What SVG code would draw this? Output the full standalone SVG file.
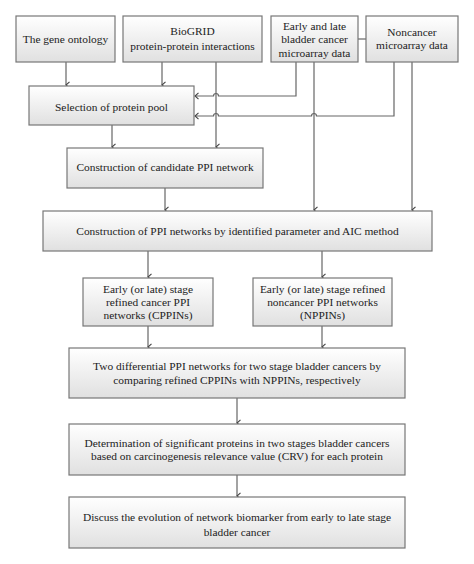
<svg xmlns="http://www.w3.org/2000/svg" width="474" height="564" viewBox="0 0 474 564">
<defs>
<linearGradient id="g" x1="0" y1="0" x2="0" y2="1">
<stop offset="0" stop-color="#ffffff"/>
<stop offset="1" stop-color="#e0e0e0"/>
</linearGradient>
<marker id="a" markerWidth="8" markerHeight="6" refX="4" refY="5" orient="auto" markerUnits="userSpaceOnUse" viewBox="0 0 8 6">
<path d="M0.8,1.5 L4,5 L7.2,1.5" fill="none" stroke="#444" stroke-width="1.1"/>
</marker>
<marker id="ar" markerWidth="6" markerHeight="8" refX="1" refY="4" markerUnits="userSpaceOnUse" viewBox="0 0 6 8">
<path d="M4.5,0.8 L1,4 L4.5,7.2" fill="none" stroke="#444" stroke-width="1.1"/>
</marker>
</defs>
<style>
.b{fill:url(#g);stroke:#777;stroke-width:1.2}
.t{font-family:"Liberation Serif","Times New Roman",serif;font-size:11.4px;fill:#222;text-anchor:middle}
.c{fill:none;stroke:#666;stroke-width:1.2}
</style>
<rect width="474" height="564" fill="#ffffff"/>
<g id="connectors">
<path class="c" d="M66,62 V85" marker-end="url(#a)"/>
<path class="c" d="M162,62 V85" marker-end="url(#a)"/>
<path class="c" d="M216,62 V147" marker-end="url(#a)"/>
<path class="c" d="M296,62 V96 H218.5 A2.5,2.5 0 0 0 213.5,96 H195" marker-end="url(#ar)"/>
<path class="c" d="M394,62 V116 H316.5 A2.5,2.5 0 0 0 311.5,116 H218.5 A2.5,2.5 0 0 0 213.5,116 H195" marker-end="url(#ar)"/>
<path class="c" d="M358,39 H366"/>
<path class="c" d="M314,62 V210" marker-end="url(#a)"/>
<path class="c" d="M412,62 V210" marker-end="url(#a)"/>
<path class="c" d="M112,125 V147" marker-end="url(#a)"/>
<path class="c" d="M165,188 V210" marker-end="url(#a)"/>
<path class="c" d="M148,251 V277" marker-end="url(#a)"/>
<path class="c" d="M322,251 V277" marker-end="url(#a)"/>
<path class="c" d="M148,326 V347" marker-end="url(#a)"/>
<path class="c" d="M322,326 V347" marker-end="url(#a)"/>
<path class="c" d="M237,398 V423" marker-end="url(#a)"/>
<path class="c" d="M237,475 V496" marker-end="url(#a)"/>
</g>
<g id="gene-ontology">
<rect class="b" x="16" y="16" width="99" height="46"/>
<text class="t" x="65.5" y="43">The gene ontology</text>
</g>
<g id="biogrid">
<rect class="b" x="123" y="16" width="139" height="46"/>
<text class="t" x="192.5" y="35">BioGRID</text>
<text class="t" x="192.5" y="50">protein-protein interactions</text>
</g>
<g id="early-late">
<rect class="b" x="271" y="16" width="87" height="46"/>
<text class="t" x="314.5" y="30">Early and late</text>
<text class="t" x="314.5" y="43">bladder cancer</text>
<text class="t" x="314.5" y="57">microarray data</text>
</g>
<g id="noncancer">
<rect class="b" x="366" y="16" width="92" height="46"/>
<text class="t" x="412" y="36">Noncancer</text>
<text class="t" x="412" y="49">microarray data</text>
</g>
<g id="selection">
<rect class="b" x="29" y="86" width="165" height="39"/>
<text class="t" x="111.5" y="111">Selection of protein pool</text>
</g>
<g id="candidate">
<rect class="b" x="67" y="148" width="196" height="40"/>
<text class="t" x="165" y="171">Construction of candidate PPI network</text>
</g>
<g id="ppi-networks">
<rect class="b" x="43" y="211" width="389" height="40"/>
<text class="t" x="237.5" y="235">Construction of PPI networks by identified parameter and AIC method</text>
</g>
<g id="cppins">
<rect class="b" x="83" y="278" width="130" height="48"/>
<text class="t" x="148" y="293">Early (or late) stage</text>
<text class="t" x="148" y="306">refined cancer PPI</text>
<text class="t" x="148" y="319">networks (CPPINs)</text>
</g>
<g id="nppins">
<rect class="b" x="253" y="278" width="139" height="48"/>
<text class="t" x="322.5" y="293">Early (or late) stage refined</text>
<text class="t" x="322.5" y="306">noncancer PPI networks</text>
<text class="t" x="322.5" y="319">(NPPINs)</text>
</g>
<g id="differential">
<rect class="b" x="69" y="348" width="336" height="50"/>
<text class="t" x="237" y="370">Two differential PPI networks for two stage bladder cancers by</text>
<text class="t" x="237" y="384">comparing refined CPPINs with NPPINs, respectively</text>
</g>
<g id="determination">
<rect class="b" x="69" y="424" width="336" height="51"/>
<text class="t" x="237" y="447">Determination of significant proteins in two stages bladder cancers</text>
<text class="t" x="237" y="460">based on carcinogenesis relevance value (CRV) for each protein</text>
</g>
<g id="discuss">
<rect class="b" x="69" y="497" width="336" height="51"/>
<text class="t" x="237" y="521">Discuss the evolution of network biomarker from early to late stage</text>
<text class="t" x="237" y="536">bladder cancer</text>
</g>
</svg>
